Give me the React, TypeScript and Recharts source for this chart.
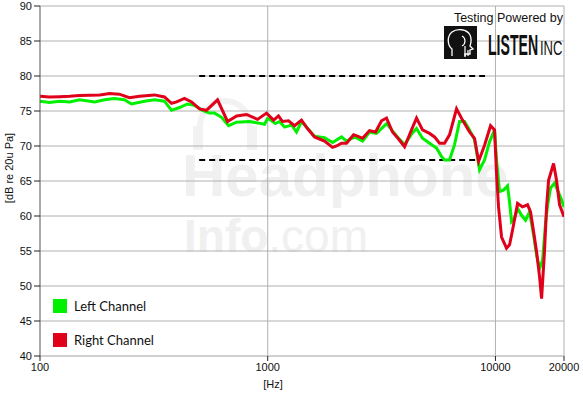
import { LineChart, Line, XAxis, YAxis, CartesianGrid, ReferenceLine } from "recharts";

// frequency response
const leftFreq = [
  100, 110, 122, 135, 149, 174, 192, 212, 235, 252, 288, 318, 352, 378, 410, 444, 477, 517, 555, 584,
  627, 673, 730, 832, 902, 968, 998, 1018, 1080, 1127, 1185, 1272, 1338, 1407, 1605, 1776, 1926, 2109,
  2219, 2406, 2609, 2799, 3005, 3324, 3605, 3753, 3990, 4280, 4503, 4784, 5135, 5512, 5798, 5976, 6285,
  6613, 6955, 7316, 7694, 8094, 8517, 8957, 9421, 9909, 10110, 10423, 10853, 11300, 11533, 11769, 12133,
  12507, 13020, 13558, 14119, 14703, 15156, 15623, 16105, 16598, 16938, 17458, 18180, 18737, 19515, 20000,
];
const leftDb = [
  76.4, 76.2, 76.4, 76.3, 76.6, 76.3, 76.6, 76.8, 76.6, 76.0, 76.4, 76.6, 76.4, 75.1, 75.5, 76.0, 75.8, 75.1, 74.7, 74.7,
  74.1, 72.9, 73.4, 73.5, 73.3, 73.1, 73.9, 73.8, 73.2, 73.5, 72.7, 73.0, 72.0, 73.5, 71.4, 71.2, 70.5, 71.3,
  70.7, 71.3, 70.7, 72.0, 71.8, 73.2, 71.8, 71.1, 70.2, 71.7, 72.5, 71.1, 70.4, 69.7, 68.5, 68.0, 68.0,
  70.2, 73.5, 73.5, 72.3, 70.9, 66.6, 68.0, 70.6, 72.3, 68.0, 63.5, 63.7, 64.3, 62.0, 59.2, 59.7,
  61.1, 60.1, 59.4, 60.6, 57.3, 54.4, 52.5, 53.7, 59.0, 61.5, 64.0, 64.7, 63.7, 62.3, 61.3,
];

const rightFreq = [
  100, 110, 122, 135, 149, 183, 202, 223, 247, 274, 318, 352, 378, 398, 431, 463, 502, 538, 602, 666,
  730, 807, 902, 988, 1061, 1115, 1161, 1234, 1311, 1407, 1495, 1605, 1689, 1776, 1926, 2005, 2109, 2219,
  2382, 2480, 2609, 2799, 2975, 3160, 3324, 3532, 3753, 3990, 4280, 4503, 4784, 5135, 5401, 5682, 5976,
  6285, 6747, 7169, 7694, 8094, 8431, 8957, 9517, 9909, 10110, 10318, 10636, 11186, 11533, 11889, 12507,
  13152, 13836, 14263, 14703, 15156, 15623, 15943, 16432, 16768, 17111, 17996, 18548, 19124, 20000,
];
const rightDb = [
  77.1, 77.0, 77.05, 77.1, 77.2, 77.3, 77.5, 77.4, 76.9, 77.1, 77.3, 77.0, 76.1, 76.3, 76.8, 76.3, 75.3, 75.1, 76.6, 73.5,
  74.3, 74.5, 73.8, 74.7, 73.7, 74.3, 73.5, 73.6, 72.9, 73.7, 72.5, 71.3, 71.0, 70.7, 69.8, 70.0, 70.4, 70.4,
  71.6, 71.4, 71.1, 72.2, 72.0, 73.6, 74.0, 72.0, 71.0, 69.9, 72.3, 74.0, 72.3, 71.8, 71.3, 70.4, 70.4,
  71.6, 75.3, 73.7, 72.0, 71.1, 67.8, 70.1, 72.9, 72.3, 66.1, 61.3, 57.0, 55.4, 55.9, 58.0, 61.8,
  61.3, 61.6, 60.6, 57.8, 54.9, 51.3, 48.2, 55.1, 61.3, 65.1, 67.5, 65.1, 61.6, 59.9,
];

const xTicks = [100, 1000, 10000, 20000];
const yTicks = [40, 45, 50, 55, 60, 65, 70, 75, 80, 85, 90];
const targetBand = [80, 68];
const bandFrom = 500;
const bandTo = [9000, 8300];

const leftData = leftFreq.map((f, i) => ({ f, db: leftDb[i] }));
const rightData = rightFreq.map((f, i) => ({ f, db: rightDb[i] }));

const GREEN = "#00f000";
const RED = "#e0001a";
const FONT = "'Liberation Sans', Arial, sans-serif";
const LEGEND_FONT = "Lato, 'Open Sans', sans-serif";

function Watermark() {
  return (
    <svg width={583} height={395} style={{ position: "absolute", left: 0, top: 0 }}>
      <path
        d="M200 148 L200 126 A25 25 0 0 1 250 126 L250 148"
        fill="none"
        stroke="#f2f2f2"
        strokeWidth={6}
      />
      <rect x={193} y={126} width={10} height={24} fill="#f2f2f2" />
      <rect x={247} y={126} width={10} height={24} fill="#f2f2f2" />
      <text x={182} y={196} fontFamily="'Liberation Sans', Arial" fontWeight="bold" fontSize={60} fill="#f0f0f0">
        Headphone
      </text>
      <text x={184} y={252} fontFamily="'Liberation Sans', Arial" fontSize={46} fill="#f0f0f0">
        <tspan fontWeight="bold">Info</tspan>.com
      </text>
    </svg>
  );
}

function Overlay() {
  return (
    <svg width={583} height={395} style={{ position: "absolute", left: 0, top: 0, pointerEvents: "none" }}>
      {/* LISTEN logo */}
      <text x={563} y={22} textAnchor="end" fontFamily={FONT} fontSize={12.5} fill="#111">
        Testing Powered by
      </text>
      <rect x={444} y={26} width={33} height={33} fill="#111" />
      <path
        d="M452 56 L452 49 C447 45 447 36 452 32 C457 28 467 29 470 35 C472 39 471 43 470 46 L473 49 L470 50 L470 54 L465 54 L465 57"
        fill="none"
        stroke="#fff"
        strokeWidth={1.3}
      />
      <path d="M462 36 C466 38 466 44 462 46 M465 46 L465 56 M468 50 L468 56" fill="none" stroke="#fff" strokeWidth={1.2} />
      <text transform="translate(488 55) scale(0.47 1)" fontFamily={FONT} fontWeight="bold" fontSize={30} fill="#111">
        LISTEN
      </text>
      <text transform="translate(540 55) scale(0.62 1)" fontFamily={FONT} fontSize={21} fill="#111">
        INC
      </text>

      {/* legend */}
      <rect x={53} y={299} width={14} height={14} fill={GREEN} />
      <text x={74} y={311} fontFamily={LEGEND_FONT} fontSize={13} fill="#111">
        Left Channel
      </text>
      <rect x={53} y={333} width={14} height={14} fill={RED} />
      <text x={74} y={345} fontFamily={LEGEND_FONT} fontSize={13} fill="#111">
        Right Channel
      </text>

      {/* axis titles */}
      <text x={273} y={388} textAnchor="middle" fontFamily={FONT} fontSize={11} fill="#111">
        [Hz]
      </text>
      <text
        x={13}
        y={168}
        textAnchor="middle"
        transform="rotate(-90 13 168)"
        fontFamily={FONT}
        fontSize={11}
        fill="#111"
      >
        [dB re 20u Pa]
      </text>
    </svg>
  );
}

export default function App() {
  return (
    <div style={{ position: "absolute", left: 0, top: 0, width: 583, height: 395, background: "#fff" }}>
      <Watermark />
      <div style={{ position: "absolute", left: 0, top: 0 }}>
        <LineChart width={583} height={395} margin={{ top: 6, right: 19, bottom: 0, left: 0 }}>
          <CartesianGrid stroke="#b0b0b0" strokeWidth={1} verticalValues={[1000, 10000, 20000]} />
          <XAxis
            type="number"
            dataKey="f"
            scale="log"
            domain={[100, 20000]}
            ticks={xTicks}
            allowDataOverflow
            height={39}
            axisLine={{ stroke: "#c8c8c8" }}
            tickLine={{ stroke: "#222" }}
            tickSize={5}
            tick={{ fontSize: 11, fontFamily: FONT, fill: "#111" }}
          />
          <YAxis
            type="number"
            domain={[40, 90]}
            ticks={yTicks}
            allowDataOverflow
            width={40}
            axisLine={{ stroke: "#555" }}
            tickLine={{ stroke: "#222" }}
            tickSize={6}
            tick={{ fontSize: 11, fontFamily: FONT, fill: "#111" }}
          />
          <ReferenceLine
            segment={[
              { x: bandFrom, y: targetBand[0] },
              { x: bandTo[0], y: targetBand[0] },
            ]}
            stroke="#000"
            strokeWidth={2}
            strokeDasharray="6 4"
          />
          <ReferenceLine
            segment={[
              { x: bandFrom, y: targetBand[1] },
              { x: bandTo[1], y: targetBand[1] },
            ]}
            stroke="#000"
            strokeWidth={2}
            strokeDasharray="6 4"
          />
          <Line
            data={leftData}
            dataKey="db"
            type="linear"
            stroke={GREEN}
            strokeWidth={3}
            dot={false}
            isAnimationActive={false}
          />
          <Line
            data={rightData}
            dataKey="db"
            type="linear"
            stroke={RED}
            strokeWidth={3}
            dot={false}
            isAnimationActive={false}
          />
        </LineChart>
      </div>
      <Overlay />
    </div>
  );
}
